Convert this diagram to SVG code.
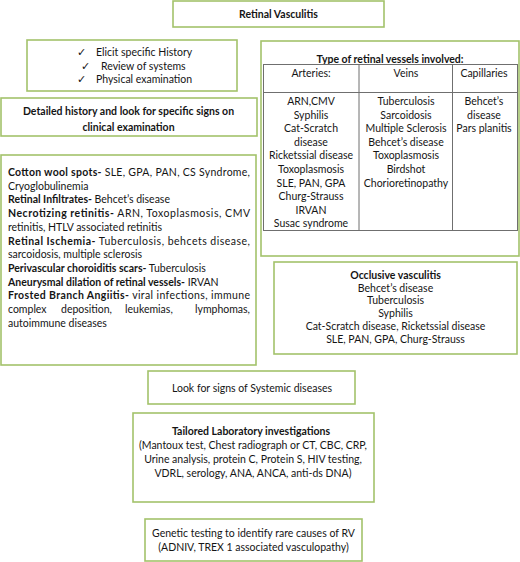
<svg xmlns="http://www.w3.org/2000/svg" width="520" height="562" viewBox="0 0 520 562">
<style>
.box{fill:#ffffff;stroke:#a3c26b;stroke-width:1.6}
.tbl{fill:none;stroke:#6f6f6f;stroke-width:1}
text{font-family:Lato,"Open Sans","Liberation Sans",sans-serif;font-size:10.5px;fill:#151515}
.b{font-weight:bold}
.c{text-anchor:middle}
.e{text-anchor:end}
.chk{font-family:"DejaVu Sans",sans-serif;font-size:11px}
</style>
<rect width="520" height="562" fill="#ffffff"/>
<g id="connectors"></g>

<g id="title">
<rect class="box" x="173" y="1" width="211" height="26"/>
<text class="b c" x="278.5" y="18">Retinal Vasculitis</text>
</g>

<g id="checklist">
<rect class="box" x="27" y="40" width="210" height="51"/>
<text class="chk" x="77" y="56">✓</text>
<text x="96" y="56">Elicit specific History</text>
<text class="chk" x="81" y="70">✓</text>
<text x="101" y="70">Review of systems</text>
<text class="chk" x="77" y="83">✓</text>
<text x="96" y="83">Physical examination</text>
</g>

<g id="detailed">
<rect class="box" x="1" y="98" width="256" height="38"/>
<text class="b c" x="128.5" y="115">Detailed history and look for specific signs on</text>
<text class="b c" x="128.5" y="131">clinical examination</text>
</g>

<g id="signs">
<rect class="box" x="1" y="155" width="255" height="210"/>
<text x="8" y="176" textLength="242" lengthAdjust="spacing"><tspan class="b">Cotton wool spots-</tspan> SLE, GPA, PAN, CS Syndrome,</text>
<text x="8" y="189.7">Cryoglobulinemia</text>
<text x="8" y="203.4"><tspan class="b">Retinal Infiltrates-</tspan> Behcet’s disease</text>
<text x="8" y="217.1" textLength="242" lengthAdjust="spacing"><tspan class="b">Necrotizing retinitis-</tspan> ARN, Toxoplasmosis, CMV</text>
<text x="8" y="230.8">retinitis, HTLV associated retinitis</text>
<text x="8" y="244.5" textLength="242" lengthAdjust="spacing"><tspan class="b">Retinal Ischemia-</tspan> Tuberculosis, behcets disease,</text>
<text x="8" y="258.2">sarcoidosis, multiple sclerosis</text>
<text x="8" y="271.9"><tspan class="b">Perivascular choroiditis scars-</tspan> Tuberculosis</text>
<text x="8" y="285.6"><tspan class="b">Aneurysmal dilation of retinal vessels-</tspan> IRVAN</text>
<text x="8" y="299.3" textLength="242" lengthAdjust="spacing"><tspan class="b">Frosted Branch Angiitis-</tspan> viral infections, immune</text>
<text y="313"><tspan x="8">complex</tspan><tspan x="61">deposition,</tspan><tspan x="125">leukemias,</tspan><tspan x="250" class="e">lymphomas,</tspan></text>
<text x="8" y="326.7">autoimmune diseases</text>
</g>

<g id="vessels">
<rect class="box" x="261" y="41" width="258" height="215"/>
<text class="b c" x="390" y="63">Type of retinal vessels involved:</text>
<rect class="tbl" x="263.5" y="64.5" width="254" height="166"/>
<line class="tbl" x1="263.5" y1="92.5" x2="517.5" y2="92.5"/>
<line class="tbl" x1="359" y1="64.5" x2="359" y2="230.5"/>
<line class="tbl" x1="452.5" y1="64.5" x2="452.5" y2="230.5"/>
<text class="c" x="311" y="76.5">Arteries:</text>
<text class="c" x="406" y="76.5">Veins</text>
<text class="c" x="484" y="76.5">Capillaries</text>
<text class="c" x="311" y="105">ARN,CMV</text>
<text class="c" x="311" y="118.6">Syphilis</text>
<text class="c" x="311" y="132.2">Cat-Scratch</text>
<text class="c" x="311" y="145.8">disease</text>
<text class="c" x="311" y="159.4">Ricketssial disease</text>
<text class="c" x="311" y="173">Toxoplasmosis</text>
<text class="c" x="311" y="186.6">SLE, PAN, GPA</text>
<text class="c" x="311" y="200.2">Churg-Strauss</text>
<text class="c" x="311" y="213.8">IRVAN</text>
<text class="c" x="311" y="227.4">Susac syndrome</text>
<text class="c" x="406" y="105">Tuberculosis</text>
<text class="c" x="406" y="118.6">Sarcoidosis</text>
<text class="c" x="406" y="132.2">Multiple Sclerosis</text>
<text class="c" x="406" y="145.8">Behcet’s disease</text>
<text class="c" x="406" y="159.4">Toxoplasmosis</text>
<text class="c" x="406" y="173">Birdshot</text>
<text class="c" x="406" y="186.6">Chorioretinopathy</text>
<text class="c" x="484" y="105">Behcet’s</text>
<text class="c" x="484" y="118.6">disease</text>
<text class="c" x="484" y="132.2">Pars planitis</text>
</g>

<g id="occlusive">
<rect class="box" x="274" y="262" width="243" height="92"/>
<text class="b c" x="395.5" y="279">Occlusive vasculitis</text>
<text class="c" x="395.5" y="291.7">Behcet’s disease</text>
<text class="c" x="395.5" y="304.4">Tuberculosis</text>
<text class="c" x="395.5" y="317.1">Syphilis</text>
<text class="c" x="395.5" y="329.8">Cat-Scratch disease, Ricketssial disease</text>
<text class="c" x="395.5" y="342.5">SLE, PAN, GPA, Churg-Strauss</text>
</g>

<g id="systemic">
<rect class="box" x="148" y="371" width="207" height="33"/>
<text class="c" x="252" y="391.5">Look for signs of Systemic diseases</text>
</g>

<g id="laboratory">
<rect class="box" x="133" y="413" width="241" height="89"/>
<text class="b c" x="251" y="434.5">Tailored Laboratory investigations</text>
<text class="c" x="253" y="448.5">(Mantoux test, Chest radiograph or CT, CBC, CRP,</text>
<text class="c" x="253" y="462.7">Urine analysis, protein C, Protein S, HIV testing,</text>
<text class="c" x="253" y="476.9">VDRL, serology, ANA, ANCA, anti-ds DNA)</text>
</g>

<g id="genetic">
<rect class="box" x="145" y="519" width="217" height="42"/>
<text class="c" x="253.5" y="537">Genetic testing to identify rare causes of RV</text>
<text class="c" x="253.5" y="551">(ADNIV, TREX 1 associated vasculopathy)</text>
</g>
</svg>
